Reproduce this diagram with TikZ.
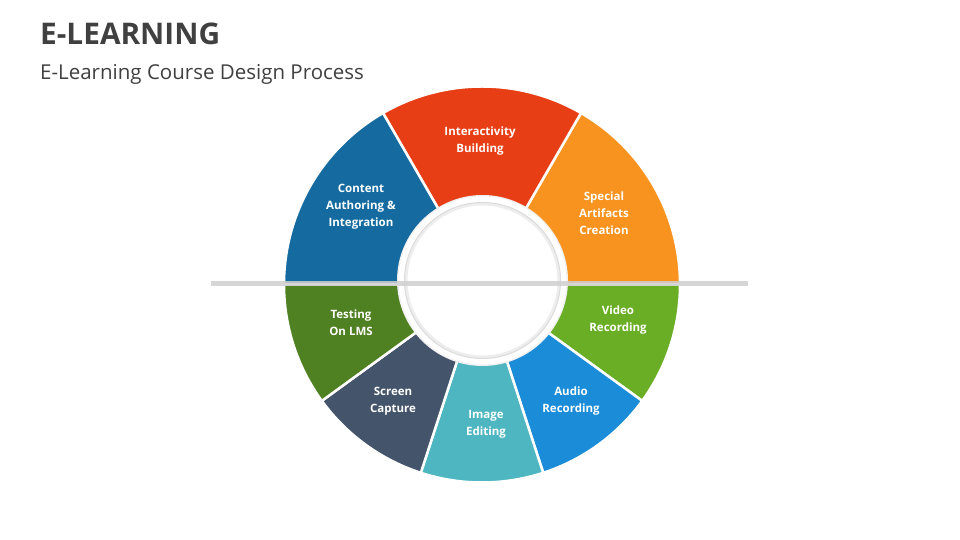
\documentclass[tikz,border=0pt]{standalone}
\usepackage{fontspec}
\setmainfont{Open Sans}
\usetikzlibrary{calc}
\definecolor{cContent}{HTML}{156BA0}
\definecolor{cInter}{HTML}{E83E15}
\definecolor{cSpecial}{HTML}{F7931E}
\definecolor{cVideo}{HTML}{6AAE26}
\definecolor{cAudio}{HTML}{1A8CD8}
\definecolor{cImage}{HTML}{4DB6C1}
\definecolor{cScreen}{HTML}{44546A}
\definecolor{cTest}{HTML}{4F8021}
\definecolor{cText}{HTML}{404040}
\tikzset{
  seg/.style={draw=white, line width=2.5pt, line join=miter},
  lbl/.style={text=white, font=\bfseries\fontsize{11.5}{17}\selectfont, align=center, inner sep=0pt},
}
\newcommand{\ringseg}[3]{% a1, a2, color
  \filldraw[seg, fill=#3] ($(C)+(#1:70pt)$) arc[start angle=#1, end angle=#2, radius=70pt]
    -- ($(C)+(#2:198pt)$) arc[start angle=#2, end angle=#1, radius=198pt] -- cycle;
}
\begin{document}
\begin{tikzpicture}[x=1pt,y=1pt]
\useasboundingbox (0,0) rectangle (960,540);
\fill[white] (0,0) rectangle (960,540);
\coordinate (C) at (482,255.5);
\coordinate (Ci) at (482.5,259.5);
% title
\node[anchor=base west, inner sep=0pt, text=cText, font=\bfseries\fontsize{29.8}{35}\selectfont] (title) at (40,495.5) {E-LEARNING};
\node[anchor=base west, inner sep=0pt, text=cText, font=\fontsize{20.5}{24}\selectfont] (subtitle) at (40,460.5) {E-Learning Course Design Process};
% upper half
\ringseg{0}{60}{cSpecial}
\ringseg{60}{120}{cInter}
\ringseg{120}{180}{cContent}
% lower half
\ringseg{0}{-36}{cVideo}
\ringseg{-36}{-72}{cAudio}
\ringseg{-72}{-108}{cImage}
\ringseg{-108}{-144}{cScreen}
\ringseg{-144}{-180}{cTest}
% inner circle
\fill[black!6] (Ci) circle[radius=85.5pt];
\fill[white] (Ci) circle[radius=84pt];
\draw[black!7, line width=3pt] (Ci) circle[radius=76.5pt];
\draw[black!14, line width=1pt] (Ci) circle[radius=78pt];
% labels
\node[lbl] (interactivity) at (480,398.5) {Interactivity\\Building};
\node[lbl] (content) at (361,333.5) {Content\\Authoring \&\\Integration};
\node[lbl] (special) at (604,326.5) {Special\\Artifacts\\Creation};
\node[lbl] (video) at (618,219.5) {Video\\Recording};
\node[lbl] (testing) at (351,217.5) {Testing\\On LMS};
\node[lbl] (audio) at (571,138.5) {Audio\\Recording};
\node[lbl] (image) at (486,115.5) {Image\\Editing};
\node[lbl] (screen) at (393,138.5) {Screen\\Capture};
% divider line
\fill[black!19, opacity=0.85] (211,254) rectangle (748,259);
\end{tikzpicture}
\end{document}
